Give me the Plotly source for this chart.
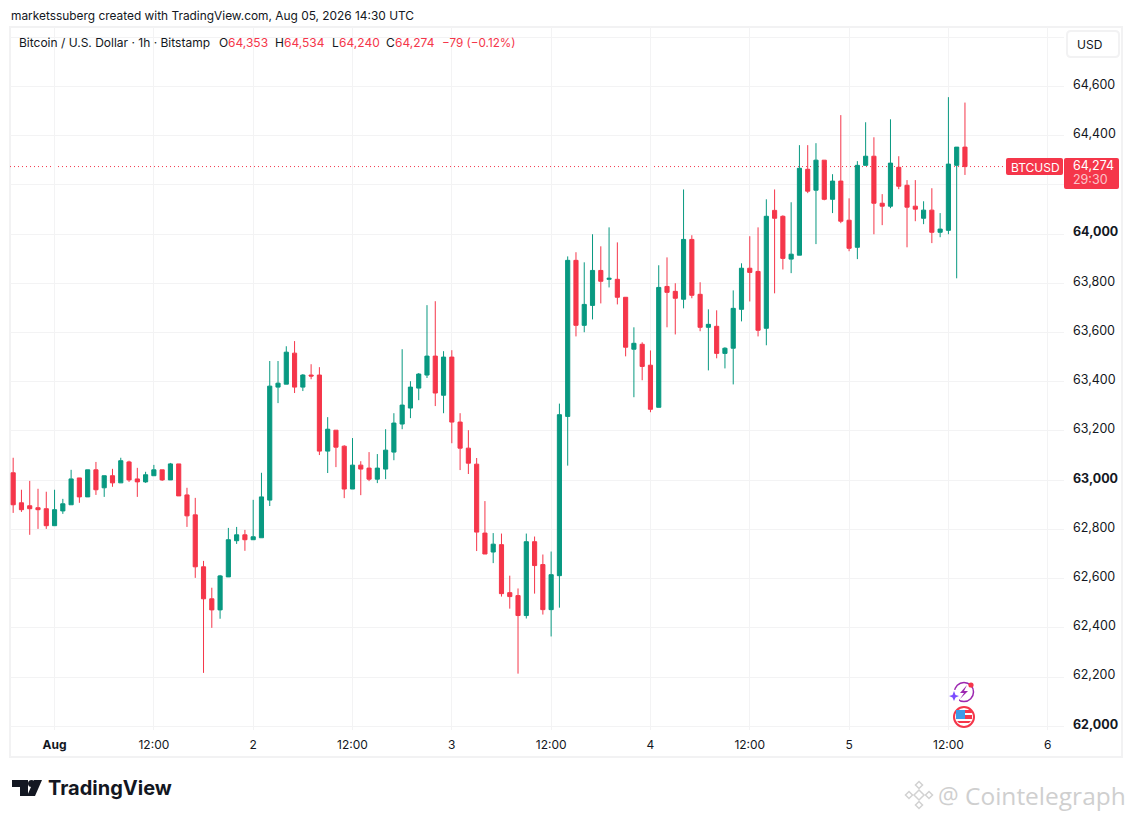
import pandas as pd
import plotly.graph_objects as go

FONT = "Inter"
GREEN = "#089981"
RED = "#F5364A"
GRID = "#F3F3F4"
TEXT = "#131722"
W, H = 1133, 818
# plot box in page pixels
LEFT, RIGHT, TOP, BOTTOM = 10, 1064, 27, 730

open_ = [
    63030, 62908, 62896, 62888, 62884, 62815, 62875, 62900, 63009, 62932, 63042, 62969,
    63018, 62989, 63074, 63005, 62993, 63018, 63042, 63001, 63066, 62940, 62859, 62648,
    62518, 62473, 62607, 62754, 62778, 62758, 62766, 62919, 63378, 63390, 63516, 63378,
    63427, 63427, 63118, 63203, 63138, 62964, 63061, 63049, 63004, 63045, 63114, 63228,
    63293, 63374, 63427, 63504, 63345, 63500, 63236, 63130, 63065, 62785, 62708, 62738,
    62543, 62531, 62450, 62750, 62657, 62474, 62612, 63259, 63893, 63629, 63710, 63852,
    63816, 63816, 63743, 63532, 63552, 63467, 63296, 63787, 63767, 63735, 63978, 63755,
    63621, 63625, 63515, 63536, 63694, 63861, 63848, 63617, 64096, 64072, 63898, 63914,
    64263, 64178, 64300, 64141, 64215, 64056, 63946, 64279, 64316, 64125, 64113, 64271,
    64198, 64113, 64064, 64097, 64007, 64015, 64279, 64353,
]
high = [
    63091, 62961, 62997, 62965, 62953, 62961, 62924, 63042, 63009, 63042, 63074, 63018,
    63046, 63091, 63079, 63050, 63034, 63062, 63042, 63070, 63066, 62969, 62928, 62672,
    62563, 62615, 62806, 62810, 62798, 62920, 63030, 63484, 63484, 63544, 63565, 63431,
    63471, 63459, 63256, 63203, 63142, 63171, 63077, 63114, 63106, 63207, 63272, 63532,
    63402, 63435, 63711, 63727, 63524, 63528, 63272, 63203, 63090, 62915, 62785, 62783,
    62612, 62560, 62783, 62771, 62698, 62710, 63311, 63909, 63926, 63885, 63999, 63950,
    64027, 63966, 63743, 63621, 63560, 63527, 63873, 63905, 63800, 64181, 63995, 63804,
    63694, 63690, 63540, 63771, 63881, 63991, 64027, 64141, 64181, 64076, 64129, 64361,
    64361, 64369, 64300, 64243, 64483, 64145, 64296, 64454, 64393, 64162, 64466, 64316,
    64219, 64219, 64133, 64186, 64085, 64556, 64353, 64534,
]
low = [
    62867, 62871, 62778, 62802, 62802, 62815, 62863, 62900, 62908, 62932, 62940, 62932,
    62973, 62989, 62993, 62932, 62989, 63018, 62997, 63001, 62936, 62810, 62603, 62217,
    62400, 62437, 62607, 62741, 62713, 62758, 62766, 62895, 63313, 63390, 63354, 63362,
    63410, 63102, 63029, 63053, 62927, 62964, 62939, 62996, 62988, 63004, 63081, 63207,
    63252, 63325, 63415, 63301, 63272, 63150, 63041, 63025, 62712, 62700, 62663, 62527,
    62478, 62214, 62438, 62539, 62454, 62365, 62482, 63059, 63584, 63601, 63653, 63718,
    63783, 63714, 63503, 63337, 63406, 63276, 63296, 63621, 63592, 63698, 63739, 63605,
    63446, 63495, 63454, 63389, 63645, 63726, 63584, 63548, 63759, 63856, 63841, 63914,
    64166, 63959, 64137, 64085, 64044, 63930, 63898, 64279, 63999, 64036, 64105, 64182,
    63946, 64052, 64040, 63963, 63987, 63999, 63820, 64240,
]
close = [
    62900, 62880, 62884, 62880, 62815, 62880, 62904, 63005, 62932, 63042, 62961, 63018,
    62989, 63079, 63001, 62993, 63022, 63042, 63001, 63066, 62936, 62855, 62648, 62518,
    62473, 62611, 62758, 62778, 62758, 62770, 62932, 63382, 63394, 63520, 63378, 63427,
    63423, 63118, 63207, 63134, 62964, 63061, 63045, 63004, 63049, 63122, 63232, 63305,
    63378, 63431, 63504, 63354, 63500, 63236, 63130, 63069, 62789, 62700, 62740, 62539,
    62527, 62450, 62750, 62653, 62474, 62616, 63266, 63893, 63629, 63714, 63852, 63808,
    63820, 63743, 63540, 63556, 63462, 63288, 63783, 63763, 63739, 63978, 63751, 63621,
    63633, 63515, 63536, 63698, 63861, 63844, 63609, 64072, 64064, 63901, 63918, 64267,
    64174, 64300, 64141, 64215, 64052, 63942, 64279, 64316, 64125, 64113, 64288, 64194,
    64109, 64101, 64097, 64007, 64020, 64284, 64353, 64274,
]
times = pd.date_range("2026-07-31 19:00", periods=len(open_), freq="h")

x_ticks = pd.date_range("2026-08-01 00:00", "2026-08-06 00:00", freq="12h")
x_labels = ["<b>Aug</b>", "12:00", "2", "12:00", "3", "12:00", "4", "12:00", "5", "12:00", "6"]
y_ticks = [62000, 62200, 62400, 62600, 62800, 63000, 63200, 63400, 63600, 63800, 64000, 64200, 64400, 64600, 64800]
y_labels = ["<b>62,000</b>", "62,200", "62,400", "62,600", "62,800", "<b>63,000</b>", "63,200", "63,400",
            "63,600", "63,800", "<b>64,000</b>", "64,200", "64,400", "64,600", ""]
last_price = 64274


def px(x):
    return (x - LEFT) / (RIGHT - LEFT)


def py(y):
    return (BOTTOM - y) / (BOTTOM - TOP)


def poly(points, **kw):
    path = "M " + " L ".join(f"{px(a)},{py(b)}" for a, b in points) + " Z"
    return dict(type="path", xref="paper", yref="paper", path=path, **kw)


def rrect(x0, y0, x1, y1, r, **kw):
    # rounded box, page pixels
    p = (f"M {px(x0 + r)},{py(y0)} L {px(x1 - r)},{py(y0)} Q {px(x1)},{py(y0)} {px(x1)},{py(y0 + r)} "
         f"L {px(x1)},{py(y1 - r)} Q {px(x1)},{py(y1)} {px(x1 - r)},{py(y1)} "
         f"L {px(x0 + r)},{py(y1)} Q {px(x0)},{py(y1)} {px(x0)},{py(y1 - r)} "
         f"L {px(x0)},{py(y0 + r)} Q {px(x0)},{py(y0)} {px(x0 + r)},{py(y0)} Z")
    return dict(type="path", xref="paper", yref="paper", path=p, **kw)


def circle(cx, cy, r, **kw):
    return dict(type="circle", xref="paper", yref="paper", x0=px(cx - r), x1=px(cx + r),
                y0=py(cy + r), y1=py(cy - r), **kw)


def label(x, y, text, color=TEXT, size=12, anchor="left", family=FONT):
    return dict(xref="paper", yref="paper", x=px(x), y=py(y), text=text, showarrow=False,
                xanchor=anchor, yanchor="middle", borderpad=0,
                font=dict(family=family, size=size, color=color))


no_line = dict(width=0)
shapes = [
    # outer frame
    dict(type="rect", xref="paper", yref="paper", x0=px(10), x1=px(1122), y0=py(757), y1=py(27),
         line=dict(color="#F2F2F3", width=2), layer="below"),
    # last price line, under the candles
    dict(type="line", xref="paper", yref="y", x0=0, x1=px(1006), y0=last_price, y1=last_price,
         line=dict(color=RED, width=1, dash="1px,3px"), layer="below"),
    rrect(1067, 31, 1119, 57, 4, fillcolor="white", line=dict(color="#F2F2F3", width=2)),
    rrect(1006, 158, 1063, 175, 2, fillcolor=RED, line=no_line),
    rrect(1064, 158, 1119, 189, 2, fillcolor=RED, line=no_line),
    # event icons
    circle(964, 692, 9.5, line=dict(color="#9C27B0", width=1.5), fillcolor="white"),
    rrect(950, 690, 959, 702, 1, fillcolor="white", line=no_line),
    poly([(954, 691), (955.5, 695), (959, 696), (955.5, 697.5), (954, 701), (952.5, 697.5), (949, 696), (952.5, 695)],
         fillcolor="#7B4DFF", line=no_line),
    poly([(967, 685), (960, 693), (964, 693), (960, 699), (968, 691), (964, 691)], fillcolor="#9C27B0", line=no_line),
    circle(971, 685, 2.6, fillcolor=RED, line=no_line),
    circle(964, 717, 10, fillcolor="white", line=dict(color=RED, width=2)),
    poly([(956, 710), (965, 710), (965, 719), (956, 719)], fillcolor="#3E9BE8", line=no_line),
    poly([(965, 710), (971, 710), (972, 713), (965, 713)], fillcolor=RED, line=no_line),
    poly([(965, 715), (972, 715), (972, 719), (965, 719)], fillcolor=RED, line=no_line),
    poly([(957, 721), (971, 721), (969, 723), (959, 723)], fillcolor=RED, line=no_line),
    # TradingView mark
    poly([(12, 780), (28, 780), (28, 796), (20, 796), (20, 787), (12, 787)], fillcolor=TEXT, line=no_line),
    circle(31.5, 783.5, 3.5, fillcolor=TEXT, line=no_line),
    poly([(34, 780), (42, 780), (35, 796), (27, 796)], fillcolor=TEXT, line=no_line),
]
# watermark diamonds
for cx, cy, r in [(919, 795, 5), (909, 795, 3.5), (929, 795, 3.5), (919, 785, 3.5), (919, 805, 3.5)]:
    shapes.append(poly([(cx, cy - r), (cx + r, cy), (cx, cy + r), (cx - r, cy)], fillcolor="white",
                       line=dict(color="#D2D2D2", width=1.5)))

annotations = [
    label(10, 15.5, "marketssuberg created with TradingView.com, Aug 05, 2026 14:30 UTC", size=11.9),
    label(18, 43, "Bitcoin / U.S. Dollar · 1h · Bitstamp"),
    label(218, 43, "O"), label(227, 43, "64,353", RED),
    label(274, 43, "H"), label(283, 43, "64,534", RED),
    label(331, 43, "L"), label(338, 43, "64,240", RED),
    label(385, 43, "C"), label(394, 43, "64,274", RED),
    label(441, 43, "−79 (−0.12%)", RED, 11.7),
    label(1076, 44, "USD"),
    label(1010, 167, "BTCUSD", "white"),
    label(1072, 165, "64,274", "white", 12.5),
    label(1072, 179, "29:30", "#FBC4CA", 12.5),
    label(47, 788, "<b>TradingView</b>", "#131722", 20),
    label(937, 795, "@", "#CFCFCF", 23, family="Open Sans"),
    label(964, 795, "Cointelegraph", "#CFCFCF", 24.5, family="Open Sans"),
]

fig = go.Figure(
    go.Candlestick(
        x=times,
        open=open_,
        high=high,
        low=low,
        close=close,
        whiskerwidth=0,
        increasing=dict(line=dict(color=GREEN, width=1), fillcolor=GREEN),
        decreasing=dict(line=dict(color=RED, width=1), fillcolor=RED),
        showlegend=False,
    )
)

fig.update_layout(
    width=W,
    height=H,
    margin=dict(l=LEFT, r=W - RIGHT, t=TOP, b=H - BOTTOM, pad=0),
    paper_bgcolor="white",
    plot_bgcolor="white",
    font=dict(family=FONT, size=12, color=TEXT),
    boxgap=0.5,
    boxgroupgap=0,
    shapes=shapes,
    annotations=annotations,
    xaxis=dict(
        type="date",
        range=["2026-07-31 18:37", "2026-08-06 01:58"],
        rangeslider=dict(visible=False),
        tickmode="array",
        tickvals=list(x_ticks),
        ticktext=x_labels,
        showgrid=True,
        gridcolor=GRID,
        gridwidth=1,
        zeroline=False,
        showline=False,
        ticks="",
        ticklabelstandoff=6,
        tickfont=dict(family=FONT, size=12, color=TEXT),
    ),
    yaxis=dict(
        side="right",
        range=[61985, 64841],
        tickmode="array",
        tickvals=y_ticks,
        ticktext=y_labels,
        showgrid=True,
        gridcolor=GRID,
        gridwidth=1,
        zeroline=False,
        showline=False,
        ticks="",
        ticklabelstandoff=8,
        ticklabelshift=-2,
        tickfont=dict(family=FONT, size=12.5, color=TEXT),
    ),
)

fig.write_html(
    "out.html",
    config={"displayModeBar": False},
    post_script="document.body.style.margin='0';document.body.style.overflow='hidden';",
)
